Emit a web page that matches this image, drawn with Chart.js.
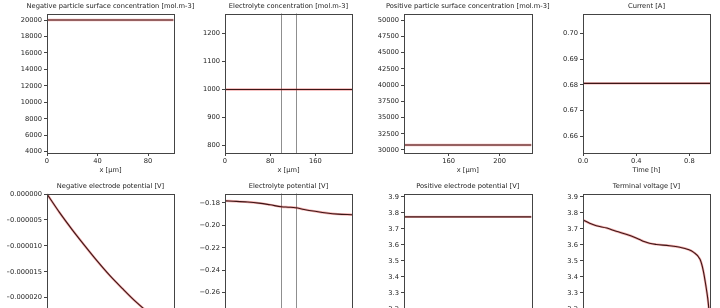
<!DOCTYPE html>
<html>
<head>
<meta charset="utf-8">
<script src="https://cdn.jsdelivr.net/npm/chart.js@4.4.1/dist/chart.umd.min.js"></script>
<style>
  html, body { margin: 0; padding: 0; background: #fff; overflow: hidden; }
  #wrap { position: relative; width: 720px; height: 308px; overflow: hidden; }
  #wrap canvas { position: absolute; left: 0; top: 0; }
</style>
</head>
<body>
<div id="wrap"></div>
<script>
// --- data ---
const negSurfX = [0, 100];                 // x [µm]
const negSurfConc = [20000, 20000];        // mol.m-3

const elecConcX = [0, 225];
const elecConc = [1000, 1000];

const posSurfX = [125, 225];
const posSurfConc = [30770, 30770];

const currentT = [0, 0.955];               // h
const current = [0.6806, 0.6806];          // A

const negPotX = [0, 10, 20, 30, 40, 50, 60, 70, 80, 90, 100];
const negPot = [0, -3.6e-6, -6.9e-6, -1.0e-5, -1.3e-5, -1.58e-5, -1.83e-5, -2.07e-5, -2.28e-5, -2.45e-5, -2.57e-5];

const elecPotX = [0, 20, 40, 60, 80, 100, 112, 125, 140, 160, 180, 200, 225];
const elecPot = [-0.1782, -0.1786, -0.1792, -0.1802, -0.1817, -0.1834, -0.1838, -0.1843, -0.1858, -0.1875, -0.1890, -0.1900, -0.1905];

const posPotX = [125, 225];
const posPot = [3.775, 3.775];

const voltT = [0, 0.05, 0.1, 0.18, 0.25, 0.33, 0.4, 0.43, 0.46, 0.5, 0.55, 0.65, 0.73, 0.79, 0.83, 0.88, 0.905, 0.923, 0.938, 0.946, 0.952, 0.955];
const volt = [3.756, 3.735, 3.72, 3.705, 3.685, 3.665, 3.643, 3.632, 3.621, 3.61, 3.603, 3.595, 3.585, 3.572, 3.555, 3.51, 3.437, 3.35, 3.266, 3.203, 3.14, 3.105];

// separator boundaries [µm]
const separatorX = [100, 125];

// tick values
const ticksNegX = [0, 40, 80];
const ticksCellX = [0, 80, 160];
const ticksPosX = [160, 200];
const ticksTime = [0, 0.4, 0.8];
const ticksNegConc = [4000, 6000, 8000, 10000, 12000, 14000, 16000, 18000, 20000];
const ticksElecConc = [800, 900, 1000, 1100, 1200];
const ticksPosConc = [30000, 32500, 35000, 37500, 40000, 42500, 45000, 47500, 50000];
const ticksCurrent = [0.66, 0.67, 0.68, 0.69, 0.70];
const ticksNegPot = [0, -5e-6, -1e-5, -1.5e-5, -2e-5, -2.5e-5];
const ticksElecPot = [-0.18, -0.20, -0.22, -0.24, -0.26, -0.28];
const ticksVolt = [3.1, 3.2, 3.3, 3.4, 3.5, 3.6, 3.7, 3.8, 3.9];

// --- layout ---
const W = 720, H = 370;
const YW = 40, XH = 22;
const FONT = 'DejaVu Sans';
const FS = 6.7;

const minus = s => s.replace('-', '\u2212');
const fInt = v => minus(String(Math.round(v)));
const fix = n => v => minus(Number(v).toFixed(n));

const panels = [
  {title: 'Negative particle surface concentration [mol.m-3]', xl: 'x [\u03bcm]', frame: [47, 13.5, 174, 153],
   xs: negSurfX, ys: negSurfConc, xr: [0, 100.5], yr: [3842, 20790], xt: ticksNegX, yt: ticksNegConc, xf: fInt, yf: fInt},
  {title: 'Electrolyte concentration [mol.m-3]', xl: 'x [\u03bcm]', frame: [225, 13.5, 352, 153],
   xs: elecConcX, ys: elecConc, xr: [0, 225], yr: [774, 1270], xt: ticksCellX, yt: ticksElecConc, xf: fInt, yf: fInt, marks: separatorX},
  {title: 'Positive particle surface concentration [mol.m-3]', xl: 'x [\u03bcm]', frame: [404, 13.5, 531.5, 153],
   xs: posSurfX, ys: posSurfConc, xr: [125, 225], yr: [29537, 51050], xt: ticksPosX, yt: ticksPosConc, xf: fInt, yf: fInt},
  {title: 'Current [A]', xl: 'Time [h]', frame: [583, 13.5, 710, 153],
   xs: currentT, ys: current, xr: [0, 0.955], yr: [0.6534, 0.7079], xt: ticksTime, yt: ticksCurrent, xf: fix(1), yf: fix(2)},
  {title: 'Negative electrode potential [V]', xl: 'x [\u03bcm]', frame: [47, 193.5, 174, 333],
   xs: negPotX, ys: negPot, xr: [0, 100.5], yr: [-2.68e-5, 1e-7], xt: ticksNegX, yt: ticksNegPot, xf: fInt, yf: fix(6)},
  {title: 'Electrolyte potential [V]', xl: 'x [\u03bcm]', frame: [225, 193.5, 352, 333],
   xs: elecPotX, ys: elecPot, xr: [0, 225], yr: [-0.296, -0.1716], xt: ticksCellX, yt: ticksElecPot, xf: fInt, yf: fix(2), marks: separatorX},
  {title: 'Positive electrode potential [V]', xl: 'x [\u03bcm]', frame: [404, 193.5, 531.5, 333],
   xs: posPotX, ys: posPot, xr: [125, 225], yr: [3.05, 3.921], xt: ticksPosX, yt: ticksVolt, xf: fInt, yf: fix(1)},
  {title: 'Terminal voltage [V]', xl: 'Time [h]', frame: [583, 193.5, 710, 333],
   xs: voltT, ys: volt, xr: [0, 0.955], yr: [3.05, 3.921], xt: ticksTime, yt: ticksVolt, xf: fix(1), yf: fix(1)}
];

const framePlugin = {
  id: 'frame',
  beforeDatasetsDraw(chart, args, opts) {
    const {ctx, chartArea: a, scales: {x}} = chart;
    (opts.marks || []).forEach(v => {
      const px = Math.round(x.getPixelForValue(v)) + 0.5;
      ctx.save();
      ctx.strokeStyle = '#8f8f8f';
      ctx.lineWidth = 1;
      ctx.beginPath();
      ctx.moveTo(px, a.top);
      ctx.lineTo(px, a.bottom);
      ctx.stroke();
      ctx.restore();
    });
  },
  afterDraw(chart, args, opts) {
    const {ctx, chartArea: a} = chart;
    const l = Math.round(a.left) + 0.5, t = Math.round(a.top) + 0.5;
    const r = Math.round(a.right) + 0.5, b = Math.round(a.bottom) + 0.5;
    ctx.save();
    ctx.strokeStyle = '#444';
    ctx.lineWidth = 1;
    ctx.strokeRect(l, t, r - l, b - t);
    ctx.fillStyle = '#222';
    ctx.font = FS + 'px "' + FONT + '"';
    ctx.textAlign = 'center';
    ctx.textBaseline = 'middle';
    ctx.fillText(opts.text, (a.left + a.right) / 2, a.top - 7);
    ctx.restore();
  }
};

const wrap = document.getElementById('wrap');

panels.forEach(p => {
  const cv = document.createElement('canvas');
  cv.width = W;
  cv.height = H;
  wrap.appendChild(cv);
  const pts = p.xs.map((x, i) => ({x: x, y: p.ys[i]}));
  const [fl, ft, fr, fb] = p.frame;
  const axisCommon = {
    type: 'linear',
    grid: {display: true, drawOnChartArea: false, drawTicks: true, tickLength: 3, color: '#444', lineWidth: 1},
    border: {display: false}
  };
  new Chart(cv, {
    type: 'line',
    data: {
      datasets: [
        {data: pts, borderColor: '#3d1616', borderWidth: 1.1, pointRadius: 0, cubicInterpolationMode: 'monotone'},
        {data: pts, borderColor: 'rgba(225,50,50,0.4)', borderWidth: 2.4, pointRadius: 0, cubicInterpolationMode: 'monotone'}
      ]
    },
    options: {
      responsive: false,
      animation: false,
      events: [],
      layout: {padding: {left: fl - YW, top: ft, right: W - fr, bottom: H - fb - XH}},
      plugins: {legend: {display: false}, tooltip: {enabled: false}, frame: {text: p.title, marks: p.marks}},
      scales: {
        x: Object.assign({}, axisCommon, {
          min: p.xr[0], max: p.xr[1],
          afterBuildTicks: s => { s.ticks = p.xt.map(v => ({value: v})); },
          afterFit: s => { s.height = XH; },
          ticks: {autoSkip: false, maxRotation: 0, padding: 1, color: '#222', font: {family: FONT, size: FS}, callback: v => p.xf(v)},
          title: {display: true, text: p.xl, color: '#222', font: {family: FONT, size: FS, lineHeight: 1.2}, padding: {top: 0, bottom: 1}}
        }),
        y: Object.assign({}, axisCommon, {
          min: p.yr[0], max: p.yr[1],
          afterBuildTicks: s => { s.ticks = p.yt.filter(v => v >= p.yr[0] && v <= p.yr[1]).map(v => ({value: v})); },
          afterFit: s => { s.width = YW; },
          ticks: {autoSkip: false, padding: 2, color: '#222', font: {family: FONT, size: FS}, callback: v => p.yf(v)}
        })
      }
    },
    plugins: [framePlugin]
  });
});
</script>
</body>
</html>
